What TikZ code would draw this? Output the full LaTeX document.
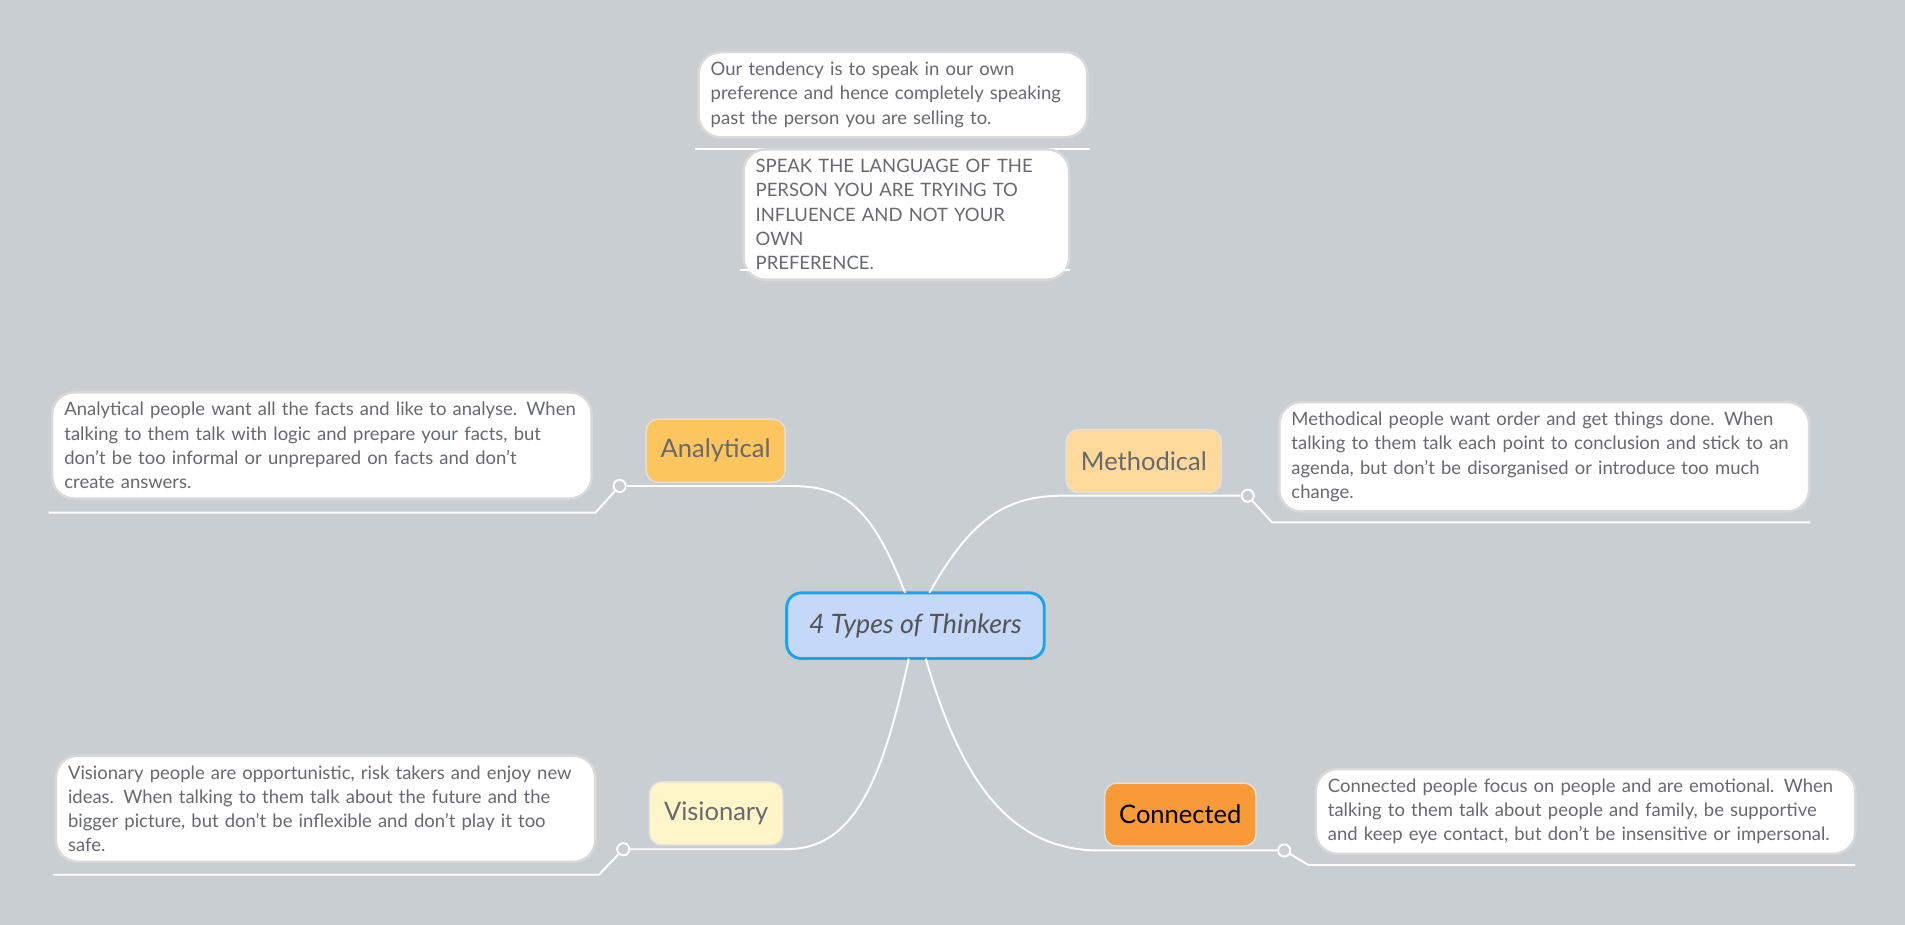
\documentclass[tikz,border=0pt]{standalone}
\usepackage{fontspec}
\setmainfont{Lato}
\usetikzlibrary{positioning}
\definecolor{bgc}{HTML}{C9CED3}
\definecolor{txtc}{HTML}{66696E}
\definecolor{lnc}{HTML}{FFFFFF}
\definecolor{anac}{HTML}{FCC55E}
\definecolor{metc}{HTML}{FDDA9B}
\definecolor{visc}{HTML}{FFF5C8}
\definecolor{conc}{HTML}{F89A38}
\definecolor{cenc}{HTML}{C6D8F7}
\definecolor{cenb}{HTML}{1AA3F0}
\tikzset{
  notebox/.style={draw=black!15, line width=1pt, fill=white, rounded corners=9pt, align=left,
    text=txtc, font=\fontsize{7.6}{10}\selectfont, inner xsep=5pt, inner ysep=4pt, anchor=north west},
  typebox/.style={draw=black!12, line width=0.6pt, rounded corners=5pt, text=txtc,
    font=\fontsize{10.5}{12}\selectfont, minimum height=26pt, inner xsep=6pt},
  branch/.style={lnc, line width=0.8pt},
  knob/.style={circle, draw=lnc, fill=bgc, line width=0.8pt, inner sep=0pt, minimum size=5pt}
}
\begin{document}
\begin{tikzpicture}[x=0.5pt,y=-0.5pt]
\fill[bgc] (0,0) rectangle (1568,761);
% top notes
\node[notebox, text width=150pt] (top1) at (574,42) {Our tendency is to speak in our own\\preference and hence completely speaking\\past the person you are selling to.};
\draw[branch] (572,123) -- (897,123);
\node[notebox, text width=124pt] (top2) at (611,122) {SPEAK THE LANGUAGE OF THE\\PERSON YOU ARE TRYING TO\\INFLUENCE AND NOT YOUR OWN\\PREFERENCE.};
\draw[branch] (609,222) -- (881,222);
% centre
\node[draw=cenb, line width=1.2pt, fill=cenc, rounded corners=6pt, minimum width=106pt,
  minimum height=27pt, text=txtc!80!black, font=\fontsize{11}{13}\selectfont\itshape] (center) at (753.5,515) {4 Types of Thinkers};
% types
\node[typebox, fill=anac] (ana) at (589,371) {Analytical};
\node[typebox, fill=metc] (met) at (941.5,379.5) {Methodical};
\node[typebox, fill=visc] (vis) at (589.5,669.5) {Visionary};
\node[typebox, fill=conc, text=black] (con) at (971.5,670.5) {Connected};
% knobs
\node[knob] (k1) at (510,400) {};
\node[knob] (k2) at (1027,408) {};
\node[knob] (k3) at (513,699) {};
\node[knob] (k4) at (1057,700) {};
% branches
\draw[branch] (745,488) .. controls (715,410) and (690,400) .. (649,400) -- (k1);
\draw[branch] (765,488) .. controls (800,425) and (830,408) .. (875,408) -- (k2);
\draw[branch] (748,542) .. controls (725,650) and (700,699) .. (647,699) -- (k3);
\draw[branch] (762,542) .. controls (790,640) and (830,700) .. (905,700) -- (k4);
\draw[branch] (k1) -- (490,422) -- (40,422);
\draw[branch] (k2) -- (1047,430) -- (1490,430);
\draw[branch] (k3) -- (493,720) -- (44,720);
\draw[branch] (k4) -- (1077,712) -- (1527,712);
% notes
\node[notebox, text width=212pt] (anan) at (42,322) {Analytical people want all the facts and like to analyse. When\\talking to them talk with logic and prepare your facts, but\\don't be too informal or unprepared on facts and don't\\create answers.};
\node[notebox, text width=208pt] (metn) at (1052,330) {Methodical people want order and get things done. When\\talking to them talk each point to conclusion and stick to an\\agenda, but don't be disorganised or introduce too much\\change.};
\node[notebox, text width=212pt] (visn) at (45,621) {Visionary people are opportunistic, risk takers and enjoy new\\ideas. When talking to them talk about the future and the\\bigger picture, but don't be inflexible and don't play it too\\safe.};
\node[notebox, text width=212pt] (conn) at (1082,632) {Connected people focus on people and are emotional. When\\talking to them talk about people and family, be supportive\\and keep eye contact, but don't be insensitive or impersonal.};
\end{tikzpicture}
\end{document}
